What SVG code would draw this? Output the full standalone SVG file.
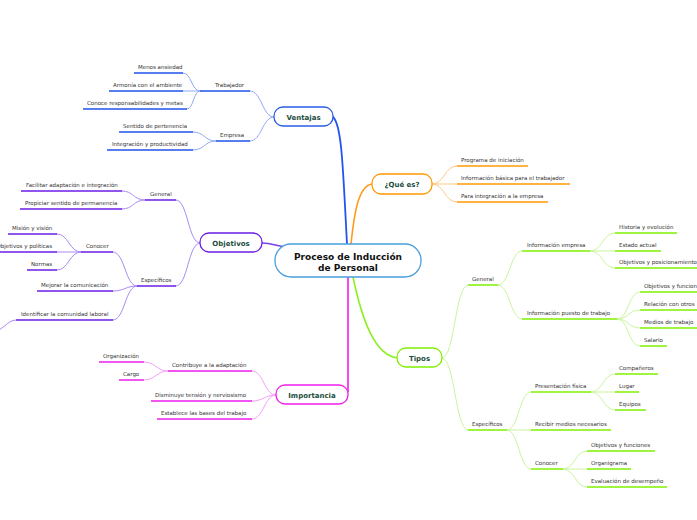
<svg xmlns="http://www.w3.org/2000/svg" width="697" height="520" viewBox="0 0 697 520">
<style>
text{font-family:"DejaVu Sans",Verdana,sans-serif}
.t{font-size:5.5px;fill:#333}
.m{font-size:7px;font-weight:bold;fill:#1b4d3e;text-anchor:middle}
.c{font-size:9px;font-weight:bold;fill:#111;text-anchor:middle}
.k{fill:none;stroke-linecap:round}
.u{stroke-width:1.5;fill:none}
.bl{stroke:#1f52e8}.blc{stroke:#8eaaf6}
.pu{stroke:#6a1ce6}.puc{stroke:#a98af5}
.mg{stroke:#ee1eee}.mgc{stroke:#f5a0f5}
.or{stroke:#ff9a00}.orc{stroke:#fcca85}
.gr{stroke:#7ff000}.grc{stroke:#c9f59c}
.n{fill:#fff;stroke-width:1.3}
</style>
<rect width="697" height="520" fill="#fff"/>
<g id="connectors" class="k">
<path d="M347,244 C343,170 342,125 333,117" stroke="#2255ee" stroke-width="1.8"/>
<path d="M351,244 C354,215 358,186 372,184" stroke="#ff9a1a" stroke-width="1.6"/>
<path d="M262,243 C272,243 276,246 286,247" stroke="#7a40ee" stroke-width="1.6"/>
<path d="M348,277 L348,392" stroke="#ee1eee" stroke-width="1.6"/>
<path d="M353,277 C362,320 375,356 398,358" stroke="#8cf020" stroke-width="1.6"/>
<g class="blc" stroke-width="1">
<path d="M274,117 C262,117 262,91 250,91"/><path d="M274,117 C262,117 262,141 250,141"/>
<path d="M200,91 C191,91 192,73 183,73"/><path d="M200,91 L183,91"/><path d="M200,91 C193,91 194,109 187,109"/>
<path d="M216,141 C204,141 205,132 193,132"/><path d="M216,141 C204,141 205,150 193,150"/>
</g>
<g class="puc" stroke-width="1">
<path d="M200,243 C188,243 188,200 176,200"/><path d="M200,243 C188,243 188,286 176,286"/>
<path d="M145,200 C133,200 134,191 122,191"/><path d="M145,200 C133,200 134,209 122,209"/>
<path d="M137,286 C125,286 125,252 113,252"/><path d="M137,286 C125,286 125,291 113,291"/><path d="M137,286 C125,286 125,320 113,320"/>
<path d="M81,252 C69,252 69,234 57,234"/><path d="M81,252 L57,252"/><path d="M81,252 C69,252 69,270 57,270"/>
<path d="M16,320 C6,320 4,332 -10,332"/>
</g>
<g class="mgc" stroke-width="1">
<path d="M276,395 C264,395 264,371 252,371"/><path d="M276,395 C264,395 264,401 252,401"/><path d="M276,395 C264,395 264,419 252,419"/>
<path d="M168,371 C156,371 156,362 144,362"/><path d="M168,371 C156,371 156,380 144,380"/>
</g>
<g class="orc" stroke-width="1">
<path d="M432,184 C445,184 444,166 457,166"/><path d="M432,184 L457,184"/><path d="M432,184 C445,184 444,202 457,202"/>
</g>
<g class="grc" stroke-width="1">
<path d="M442,358 C455,358 455,285 468,285"/><path d="M442,358 C455,358 455,430 468,430"/>
<path d="M498,285 C510,285 510,251 522,251"/><path d="M498,285 C510,285 510,319 522,319"/>
<path d="M590,251 C603,251 602,233 615,233"/><path d="M590,251 L615,251"/><path d="M590,251 C603,251 602,268 615,268"/>
<path d="M617,319 C629,319 628,292 640,292"/><path d="M617,319 C629,319 628,310 640,310"/><path d="M617,319 C629,319 628,328 640,328"/><path d="M617,319 C629,319 628,346 640,346"/>
<path d="M507,430 C519,430 519,392 531,392"/><path d="M507,430 L531,430"/><path d="M507,430 C519,430 519,469 531,469"/>
<path d="M591,392 C603,392 603,374 615,374"/><path d="M591,392 L615,392"/><path d="M591,392 C603,392 603,410 615,410"/>
<path d="M563,469 C575,469 575,451 587,451"/><path d="M563,469 L587,469"/><path d="M563,469 C575,469 575,487 587,487"/>
</g>
</g>
<g id="center">
<rect x="275" y="244" width="146" height="33" rx="16" class="n" stroke="#4a9fdc"/>
<text class="c" x="348" y="259.5">Proceso de Inducción</text>
<text class="c" x="348" y="270.5">de Personal</text>
</g>
<g id="ventajas">
<rect x="274" y="107" width="59" height="19" rx="9" class="n" stroke="#2b5ce6"/>
<text class="m" x="303.5" y="119.5">Ventajas</text>
<g class="u bl">
<line x1="200" y1="91" x2="250" y2="91"/><line x1="216" y1="141" x2="250" y2="141"/>
<line x1="134" y1="73" x2="183" y2="73"/><line x1="109" y1="91" x2="183" y2="91"/><line x1="83" y1="109" x2="187" y2="109"/>
<line x1="119" y1="132" x2="193" y2="132"/><line x1="107" y1="150" x2="193" y2="150"/>
</g>
<text class="t" x="215" y="87">Trabajador</text>
<text class="t" x="220" y="137">Empresa</text>
<text class="t" x="138" y="69">Menos ansiedad</text>
<text class="t" x="113" y="87">Armonía con el ambiente</text>
<text class="t" x="87" y="105">Conoce responsabilidades y metas</text>
<text class="t" x="123" y="128">Sentido de pertenencia</text>
<text class="t" x="112" y="146">Integración y productividad</text>
</g>
<g id="objetivos">
<rect x="200" y="233" width="62" height="19" rx="9" class="n" stroke="#6a1ce6"/>
<text class="m" x="231" y="245.5">Objetivos</text>
<g class="u pu">
<line x1="145" y1="200" x2="176" y2="200"/><line x1="137" y1="286" x2="176" y2="286"/>
<line x1="21" y1="191" x2="122" y2="191"/><line x1="20" y1="209" x2="122" y2="209"/>
<line x1="81" y1="252" x2="113" y2="252"/><line x1="37" y1="291" x2="113" y2="291"/><line x1="16" y1="320" x2="113" y2="320"/>
<line x1="8" y1="234" x2="57" y2="234"/><line x1="-5" y1="252" x2="57" y2="252"/><line x1="27" y1="270" x2="57" y2="270"/>
</g>
<text class="t" x="150" y="196">General</text>
<text class="t" x="141" y="282">Específicos</text>
<text class="t" x="26" y="187">Facilitar adaptación e integración</text>
<text class="t" x="25" y="205">Propiciar sentido de permanencia</text>
<text class="t" x="86" y="248">Conocer</text>
<text class="t" x="41" y="287">Mejorar la comunicación</text>
<text class="t" x="21" y="316">Identificar la comunidad laboral</text>
<text class="t" x="12" y="230">Misión y visión</text>
<text class="t" x="52" y="248" text-anchor="end">Objetivos y políticas</text>
<text class="t" x="31" y="266">Normas</text>
</g>
<g id="importancia">
<rect x="276" y="385" width="72" height="19" rx="9" class="n" stroke="#ee1eee"/>
<text class="m" x="312" y="397.5">Importancia</text>
<g class="u mg">
<line x1="168" y1="371" x2="252" y2="371"/><line x1="151" y1="401" x2="252" y2="401"/><line x1="157" y1="419" x2="252" y2="419"/>
<line x1="99" y1="362" x2="144" y2="362"/><line x1="119" y1="380" x2="144" y2="380"/>
</g>
<text class="t" x="172" y="367">Contribuye a la adaptación</text>
<text class="t" x="155" y="397">Disminuye tensión y nerviosismo</text>
<text class="t" x="161" y="415">Establece las bases del trabajo</text>
<text class="t" x="103" y="358">Organización</text>
<text class="t" x="123" y="376">Cargo</text>
</g>
<g id="quees">
<rect x="372" y="174" width="60" height="20" rx="9" class="n" stroke="#ff9a00"/>
<text class="m" x="402" y="186.5">¿Qué es?</text>
<g class="u or">
<line x1="457" y1="166" x2="528" y2="166"/><line x1="457" y1="184" x2="570" y2="184"/><line x1="457" y1="202" x2="548" y2="202"/>
</g>
<text class="t" x="461" y="162">Programa de iniciación</text>
<text class="t" x="461" y="180">Información básica para el trabajador</text>
<text class="t" x="461" y="198">Para integración a la empresa</text>
</g>
<g id="tipos">
<rect x="397" y="348" width="45" height="19" rx="9" class="n" stroke="#7ff000"/>
<text class="m" x="419.5" y="360.5">Tipos</text>
<g class="u gr">
<line x1="468" y1="285" x2="498" y2="285"/><line x1="468" y1="430" x2="507" y2="430"/>
<line x1="522" y1="251" x2="590" y2="251"/><line x1="522" y1="319" x2="617" y2="319"/>
<line x1="615" y1="233" x2="677" y2="233"/><line x1="615" y1="251" x2="661" y2="251"/><line x1="615" y1="268" x2="700" y2="268"/>
<line x1="640" y1="292" x2="700" y2="292"/><line x1="640" y1="310" x2="698" y2="310"/><line x1="640" y1="328" x2="698" y2="328"/><line x1="640" y1="346" x2="667" y2="346"/>
<line x1="531" y1="392" x2="591" y2="392"/><line x1="531" y1="430" x2="611" y2="430"/><line x1="531" y1="469" x2="563" y2="469"/>
<line x1="615" y1="374" x2="658" y2="374"/><line x1="615" y1="392" x2="639" y2="392"/><line x1="615" y1="410" x2="646" y2="410"/>
<line x1="587" y1="451" x2="655" y2="451"/><line x1="587" y1="469" x2="631" y2="469"/><line x1="587" y1="487" x2="667" y2="487"/>
</g>
<text class="t" x="472" y="281">General</text>
<text class="t" x="472" y="426">Específicos</text>
<text class="t" x="527" y="247">Información empresa</text>
<text class="t" x="527" y="315">Información puesto de trabajo</text>
<text class="t" x="619" y="229">Historia y evolución</text>
<text class="t" x="619" y="247">Estado actual</text>
<text class="t" x="619" y="264">Objetivos y posicionamiento</text>
<text class="t" x="644" y="288">Objetivos y funciones</text>
<text class="t" x="644" y="306">Relación con otros</text>
<text class="t" x="644" y="324">Medios de trabajo</text>
<text class="t" x="644" y="342">Salario</text>
<text class="t" x="535" y="388">Presentación física</text>
<text class="t" x="535" y="426">Recibir medios necesarios</text>
<text class="t" x="535" y="465">Conocer</text>
<text class="t" x="619" y="370">Compañeros</text>
<text class="t" x="619" y="388">Lugar</text>
<text class="t" x="619" y="406">Equipos</text>
<text class="t" x="591" y="447">Objetivos y funciones</text>
<text class="t" x="591" y="465">Organigrama</text>
<text class="t" x="591" y="483">Evaluación de desempeño</text>
</g>
</svg>
